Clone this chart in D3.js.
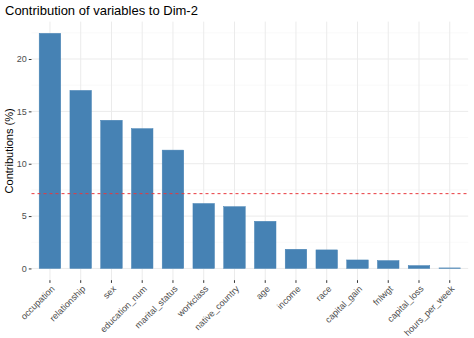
<!DOCTYPE html>
<html>
<head>
<meta charset="utf-8">
<script src="https://cdn.jsdelivr.net/npm/d3@7"></script>
<style>
  body { margin: 0; background: #fff; }
  text { font-family: "Liberation Sans", Arial, sans-serif; }
</style>
</head>
<body>
<div id="chart"></div>
<script>
var variables = ["occupation", "relationship", "sex", "education_num", "marital_status",
  "workclass", "native_country", "age", "income", "race", "capital_gain", "fnlwgt",
  "capital_loss", "hours_per_week"];
var contributions = [22.45, 17.0, 14.15, 13.35, 11.3, 6.2, 5.9, 4.5, 1.83, 1.77, 0.81, 0.75, 0.27, 0.05];
var yTicks = [0, 5, 10, 15, 20];
var expected = 100 / variables.length;

var W = 474, H = 338;
var pLeft = 31.5, pRight = 468.2, pTop = 21.6, pBottom = 280.2;

var svg = d3.select("#chart").append("svg")
  .attr("width", W)
  .attr("height", H);

var maxV = d3.max(contributions);
var y = d3.scaleLinear()
  .domain([-maxV * 0.05, maxV * 1.05])
  .range([pBottom, pTop]);

var x = d3.scaleBand()
  .domain(variables)
  .range([pLeft, pRight])
  .paddingInner(0.3)
  .paddingOuter(0.25);

// minor grid
var minor = d3.range(2.5, maxV * 1.05, 5);
svg.append("g").selectAll("line")
  .data(minor)
  .enter()
  .append("line")
  .attr("x1", pLeft).attr("x2", pRight)
  .attr("y1", function (d) { return y(d); })
  .attr("y2", function (d) { return y(d); })
  .style("stroke", "#f2f2f2")
  .style("stroke-width", "0.5px");

// major grid
svg.append("g").selectAll("line")
  .data(yTicks)
  .enter()
  .append("line")
  .attr("x1", pLeft).attr("x2", pRight)
  .attr("y1", function (d) { return y(d); })
  .attr("y2", function (d) { return y(d); })
  .style("stroke", "#ebebeb")
  .style("stroke-width", "1px");

svg.append("g").selectAll("line")
  .data(variables)
  .enter()
  .append("line")
  .attr("x1", function (d) { return x(d) + x.bandwidth() / 2; })
  .attr("x2", function (d) { return x(d) + x.bandwidth() / 2; })
  .attr("y1", pTop).attr("y2", pBottom)
  .style("stroke", "#ebebeb")
  .style("stroke-width", "1px");

// bars
svg.append("g").selectAll("rect")
  .data(contributions)
  .enter()
  .append("rect")
  .attr("x", function (d, i) { return x(variables[i]); })
  .attr("width", x.bandwidth())
  .attr("y", function (d) { return y(d); })
  .attr("height", function (d) { return y(0) - y(d); })
  .style("fill", "#4682b4")
  .style("stroke", "#4682b4")
  .style("stroke-width", "0.5px");

// expected contribution line
svg.append("line")
  .attr("x1", pLeft).attr("x2", pRight)
  .attr("y1", y(expected)).attr("y2", y(expected))
  .style("stroke", "#e8383d")
  .style("stroke-width", "1px")
  .style("stroke-dasharray", "3,3");

// y axis
var yAxis = svg.append("g")
  .attr("transform", "translate(" + pLeft + ",0)")
  .call(d3.axisLeft(y).tickValues(yTicks).tickSize(2.7).tickPadding(2));
yAxis.select(".domain").remove();
yAxis.selectAll(".tick line").style("stroke", "#333333");
yAxis.selectAll("text")
  .style("font-size", "9px")
  .attr("fill", "#4d4d4d");

// x axis
var xAxis = svg.append("g")
  .attr("transform", "translate(0," + pBottom + ")")
  .call(d3.axisBottom(x).tickSize(2.7).tickPadding(2));
xAxis.select(".domain").remove();
xAxis.selectAll(".tick line").style("stroke", "#333333");
xAxis.selectAll("text")
  .style("font-size", "9px")
  .attr("fill", "#4d4d4d")
  .attr("text-anchor", "end")
  .attr("x", 0)
  .attr("y", 0)
  .attr("dy", "0.35em")
  .attr("transform", "translate(3,7) rotate(-45)");

// title
svg.append("text")
  .attr("x", 5)
  .attr("y", 15)
  .style("font-size", "13px")
  .attr("fill", "#000")
  .text("Contribution of variables to Dim-2");

// y title
svg.append("text")
  .attr("transform", "translate(13," + ((pTop + pBottom) / 2) + ") rotate(-90)")
  .attr("text-anchor", "middle")
  .style("font-size", "11px")
  .attr("fill", "#000")
  .text("Contributions (%)");
</script>
</body>
</html>
